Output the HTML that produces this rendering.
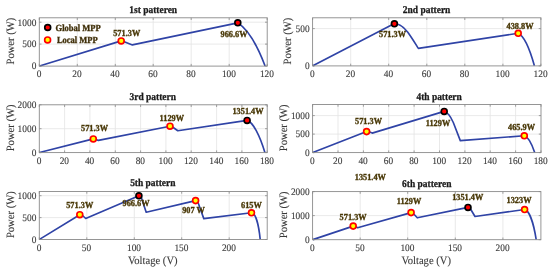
<!DOCTYPE html>
<html><head><meta charset="utf-8"><title>P-V curves</title>
<style>
html,body{margin:0;padding:0;background:#fff;}
svg{display:block;filter:blur(0.3px);}
text{font-family:"Liberation Serif","Times New Roman",serif;text-rendering:geometricPrecision;}
.tk{font-size:9.35px;fill:#3c3c3c;stroke:#3c3c3c;stroke-width:0.12px;}
.lb{font-size:10.6px;fill:#3a3a3a;stroke:#3a3a3a;stroke-width:0.1px;}
.tt{font-size:9.45px;font-weight:bold;fill:#1a1a1a;stroke:#1a1a1a;stroke-width:0.25px;}
.an{font-size:8.3px;font-weight:bold;fill:#483706;stroke:#483706;stroke-width:0.3px;}
.lg{font-size:8.5px;font-weight:bold;fill:#40300a;stroke:#40300a;stroke-width:0.3px;}
</style></head>
<body>
<svg width="550" height="270" viewBox="0 0 550 270">
<rect width="550" height="270" fill="#fff"/>
<g>
<path d="M77.3,17.8V66.1M115.3,17.8V66.1M153.2,17.8V66.1M191.2,17.8V66.1M229.2,17.8V66.1M39.3,44.1H267.2M39.3,22.2H267.2" stroke="#e3e3e3" stroke-width="0.8" fill="none"/>
<path d="M39.5,66 L121.2,40.9 Q122.6,40.6 123.6,41.4 L132.4,44.9 L237.8,22.9 C246,28 256,42 265.1,66" stroke="#2f43a6" stroke-width="1.65" fill="none" stroke-linejoin="round"/>
<rect x="39.3" y="17.8" width="227.9" height="48.3" fill="none" stroke="#8a8a8a" stroke-width="0.9"/>
<path d="M39.3,66.1v-2.2M39.3,17.8v2.2M77.3,66.1v-2.2M77.3,17.8v2.2M115.3,66.1v-2.2M115.3,17.8v2.2M153.2,66.1v-2.2M153.2,17.8v2.2M191.2,66.1v-2.2M191.2,17.8v2.2M229.2,66.1v-2.2M229.2,17.8v2.2M267.2,66.1v-2.2M267.2,17.8v2.2M39.3,66.1h2.2M267.2,66.1h-2.2M39.3,44.1h2.2M267.2,44.1h-2.2M39.3,22.2h2.2M267.2,22.2h-2.2" stroke="#8a8a8a" stroke-width="0.8" fill="none"/>
<text class="tk" transform="translate(39.0,77.3) scale(1,1.06)" text-anchor="middle">0</text>
<text class="tk" transform="translate(77.0,77.3) scale(1,1.06)" text-anchor="middle">20</text>
<text class="tk" transform="translate(115.0,77.3) scale(1,1.06)" text-anchor="middle">40</text>
<text class="tk" transform="translate(152.9,77.3) scale(1,1.06)" text-anchor="middle">60</text>
<text class="tk" transform="translate(190.9,77.3) scale(1,1.06)" text-anchor="middle">80</text>
<text class="tk" transform="translate(228.9,77.3) scale(1,1.06)" text-anchor="middle">100</text>
<text class="tk" transform="translate(266.9,77.3) scale(1,1.06)" text-anchor="middle">120</text>
<text class="tk" transform="translate(36.3,69.4) scale(1,1.06)" text-anchor="end">0</text>
<text class="tk" transform="translate(36.3,47.4) scale(1,1.06)" text-anchor="end">500</text>
<text class="tk" transform="translate(36.3,25.5) scale(1,1.06)" text-anchor="end">1000</text>
<text class="lb" transform="translate(13.5,41.1) rotate(-90) scale(1,1.06)" text-anchor="middle">Power (W)</text>
<text class="tt" transform="translate(153.2,13.1) scale(1,1.1)" text-anchor="middle">1st patteren</text>
<circle cx="121.2" cy="40.9" r="2.95" fill="#ff0" stroke="#f00" stroke-width="1.65"/>
<circle cx="237.8" cy="22.8" r="2.95" fill="#f00" stroke="#000" stroke-width="1.65"/>
</g>
<g>
<path d="M350.7,17.8V65.9M388.7,17.8V65.9M426.8,17.8V65.9M464.8,17.8V65.9M502.9,17.8V65.9M312.6,28.6H540.9" stroke="#e3e3e3" stroke-width="0.8" fill="none"/>
<path d="M312.8,65.8 L392.5,24.6 C397,22.5 403,26 407.8,32.2 C412,38 415,43 418.4,48.4 L518.2,33.3 C524,36 530,50 534.4,65.8" stroke="#2f43a6" stroke-width="1.65" fill="none" stroke-linejoin="round"/>
<rect x="312.6" y="17.8" width="228.3" height="48.1" fill="none" stroke="#8a8a8a" stroke-width="0.9"/>
<path d="M312.6,65.9v-2.2M312.6,17.8v2.2M350.7,65.9v-2.2M350.7,17.8v2.2M388.7,65.9v-2.2M388.7,17.8v2.2M426.8,65.9v-2.2M426.8,17.8v2.2M464.8,65.9v-2.2M464.8,17.8v2.2M502.9,65.9v-2.2M502.9,17.8v2.2M540.9,65.9v-2.2M540.9,17.8v2.2M312.6,65.9h2.2M540.9,65.9h-2.2M312.6,28.6h2.2M540.9,28.6h-2.2" stroke="#8a8a8a" stroke-width="0.8" fill="none"/>
<text class="tk" transform="translate(312.3,77.1) scale(1,1.06)" text-anchor="middle">0</text>
<text class="tk" transform="translate(350.4,77.1) scale(1,1.06)" text-anchor="middle">20</text>
<text class="tk" transform="translate(388.4,77.1) scale(1,1.06)" text-anchor="middle">40</text>
<text class="tk" transform="translate(426.4,77.1) scale(1,1.06)" text-anchor="middle">60</text>
<text class="tk" transform="translate(464.5,77.1) scale(1,1.06)" text-anchor="middle">80</text>
<text class="tk" transform="translate(502.6,77.1) scale(1,1.06)" text-anchor="middle">100</text>
<text class="tk" transform="translate(540.6,77.1) scale(1,1.06)" text-anchor="middle">120</text>
<text class="tk" transform="translate(309.6,69.2) scale(1,1.06)" text-anchor="end">0</text>
<text class="tk" transform="translate(309.6,31.9) scale(1,1.06)" text-anchor="end">500</text>
<text class="lb" transform="translate(291.2,41.1) rotate(-90) scale(1,1.06)" text-anchor="middle">Power (W)</text>
<text class="tt" transform="translate(426.6,13.4) scale(1,1.1)" text-anchor="middle">2nd pattern</text>
<circle cx="394.4" cy="23.8" r="2.95" fill="#f00" stroke="#000" stroke-width="1.65"/>
<circle cx="518.2" cy="33.3" r="2.95" fill="#ff0" stroke="#f00" stroke-width="1.65"/>
</g>
<g>
<path d="M64.6,104.8V152.6M89.9,104.8V152.6M115.3,104.8V152.6M140.6,104.8V152.6M165.9,104.8V152.6M191.2,104.8V152.6M216.6,104.8V152.6M241.9,104.8V152.6M39.3,128.7H267.2" stroke="#e3e3e3" stroke-width="0.8" fill="none"/>
<path d="M39.5,152.5 L93.3,138.9 Q94.5,138.7 95.3,139.2 L98.4,140.4 L170,126.2 Q171.5,126.1 172.5,127 L177.8,130.7 L247.1,120.4 C253,122 260,136 264.9,152.6" stroke="#2f43a6" stroke-width="1.65" fill="none" stroke-linejoin="round"/>
<rect x="39.3" y="104.8" width="227.9" height="47.8" fill="none" stroke="#8a8a8a" stroke-width="0.9"/>
<path d="M39.3,152.6v-2.2M39.3,104.8v2.2M64.6,152.6v-2.2M64.6,104.8v2.2M89.9,152.6v-2.2M89.9,104.8v2.2M115.3,152.6v-2.2M115.3,104.8v2.2M140.6,152.6v-2.2M140.6,104.8v2.2M165.9,152.6v-2.2M165.9,104.8v2.2M191.2,152.6v-2.2M191.2,104.8v2.2M216.6,152.6v-2.2M216.6,104.8v2.2M241.9,152.6v-2.2M241.9,104.8v2.2M267.2,152.6v-2.2M267.2,104.8v2.2M39.3,152.6h2.2M267.2,152.6h-2.2M39.3,128.7h2.2M267.2,128.7h-2.2M39.3,104.8h2.2M267.2,104.8h-2.2" stroke="#8a8a8a" stroke-width="0.8" fill="none"/>
<text class="tk" transform="translate(39.0,163.8) scale(1,1.06)" text-anchor="middle">0</text>
<text class="tk" transform="translate(64.3,163.8) scale(1,1.06)" text-anchor="middle">20</text>
<text class="tk" transform="translate(89.6,163.8) scale(1,1.06)" text-anchor="middle">40</text>
<text class="tk" transform="translate(115.0,163.8) scale(1,1.06)" text-anchor="middle">60</text>
<text class="tk" transform="translate(140.3,163.8) scale(1,1.06)" text-anchor="middle">80</text>
<text class="tk" transform="translate(165.6,163.8) scale(1,1.06)" text-anchor="middle">100</text>
<text class="tk" transform="translate(190.9,163.8) scale(1,1.06)" text-anchor="middle">120</text>
<text class="tk" transform="translate(216.3,163.8) scale(1,1.06)" text-anchor="middle">140</text>
<text class="tk" transform="translate(241.6,163.8) scale(1,1.06)" text-anchor="middle">160</text>
<text class="tk" transform="translate(266.9,163.8) scale(1,1.06)" text-anchor="middle">180</text>
<text class="tk" transform="translate(36.3,155.9) scale(1,1.06)" text-anchor="end">0</text>
<text class="tk" transform="translate(36.3,132.0) scale(1,1.06)" text-anchor="end">1000</text>
<text class="tk" transform="translate(36.3,108.1) scale(1,1.06)" text-anchor="end">2000</text>
<text class="lb" transform="translate(13.5,127.9) rotate(-90) scale(1,1.06)" text-anchor="middle">Power (W)</text>
<text class="tt" transform="translate(152.8,99.9) scale(1,1.1)" text-anchor="middle">3rd pattern</text>
<circle cx="93.3" cy="138.9" r="2.95" fill="#ff0" stroke="#f00" stroke-width="1.65"/>
<circle cx="170.0" cy="126.2" r="2.95" fill="#ff0" stroke="#f00" stroke-width="1.65"/>
<circle cx="247.1" cy="120.4" r="2.95" fill="#f00" stroke="#000" stroke-width="1.65"/>
</g>
<g>
<path d="M338.0,104.5V152.6M363.4,104.5V152.6M388.7,104.5V152.6M414.1,104.5V152.6M439.5,104.5V152.6M464.9,104.5V152.6M490.2,104.5V152.6M515.6,104.5V152.6M312.6,134.1H541.0M312.6,115.6H541.0" stroke="#e3e3e3" stroke-width="0.8" fill="none"/>
<path d="M312.8,152.5 L366.6,131.6 Q368,131.2 369,131.8 L372.2,133.1 L442.5,111.9 C447,110.8 450,115 453.3,122.5 L460.3,140.6 L524.2,135.8 C529,137 532.5,146 534.7,152.6" stroke="#2f43a6" stroke-width="1.65" fill="none" stroke-linejoin="round"/>
<rect x="312.6" y="104.5" width="228.4" height="48.1" fill="none" stroke="#8a8a8a" stroke-width="0.9"/>
<path d="M312.6,152.6v-2.2M312.6,104.5v2.2M338.0,152.6v-2.2M338.0,104.5v2.2M363.4,152.6v-2.2M363.4,104.5v2.2M388.7,152.6v-2.2M388.7,104.5v2.2M414.1,152.6v-2.2M414.1,104.5v2.2M439.5,152.6v-2.2M439.5,104.5v2.2M464.9,152.6v-2.2M464.9,104.5v2.2M490.2,152.6v-2.2M490.2,104.5v2.2M515.6,152.6v-2.2M515.6,104.5v2.2M541.0,152.6v-2.2M541.0,104.5v2.2M312.6,152.6h2.2M541.0,152.6h-2.2M312.6,134.1h2.2M541.0,134.1h-2.2M312.6,115.6h2.2M541.0,115.6h-2.2" stroke="#8a8a8a" stroke-width="0.8" fill="none"/>
<text class="tk" transform="translate(312.3,163.8) scale(1,1.06)" text-anchor="middle">0</text>
<text class="tk" transform="translate(337.7,163.8) scale(1,1.06)" text-anchor="middle">20</text>
<text class="tk" transform="translate(363.1,163.8) scale(1,1.06)" text-anchor="middle">40</text>
<text class="tk" transform="translate(388.4,163.8) scale(1,1.06)" text-anchor="middle">60</text>
<text class="tk" transform="translate(413.8,163.8) scale(1,1.06)" text-anchor="middle">80</text>
<text class="tk" transform="translate(439.2,163.8) scale(1,1.06)" text-anchor="middle">100</text>
<text class="tk" transform="translate(464.6,163.8) scale(1,1.06)" text-anchor="middle">120</text>
<text class="tk" transform="translate(489.9,163.8) scale(1,1.06)" text-anchor="middle">140</text>
<text class="tk" transform="translate(515.3,163.8) scale(1,1.06)" text-anchor="middle">160</text>
<text class="tk" transform="translate(540.7,163.8) scale(1,1.06)" text-anchor="middle">180</text>
<text class="tk" transform="translate(309.6,155.9) scale(1,1.06)" text-anchor="end">0</text>
<text class="tk" transform="translate(309.6,137.4) scale(1,1.06)" text-anchor="end">500</text>
<text class="tk" transform="translate(309.6,118.9) scale(1,1.06)" text-anchor="end">1000</text>
<text class="lb" transform="translate(286.5,127.8) rotate(-90) scale(1,1.06)" text-anchor="middle">Power (W)</text>
<text class="tt" transform="translate(439.1,99.9) scale(1,1.1)" text-anchor="middle">4th pattern</text>
<circle cx="366.6" cy="131.6" r="2.95" fill="#ff0" stroke="#f00" stroke-width="1.65"/>
<circle cx="444.2" cy="111.4" r="2.95" fill="#f00" stroke="#000" stroke-width="1.65"/>
<circle cx="524.3" cy="135.8" r="2.95" fill="#ff0" stroke="#f00" stroke-width="1.65"/>
</g>
<g>
<path d="M86.8,191.5V239.5M134.3,191.5V239.5M181.7,191.5V239.5M229.2,191.5V239.5M39.3,217.6H267.2M39.3,195.7H267.2" stroke="#e3e3e3" stroke-width="0.8" fill="none"/>
<path d="M39.5,239.4 L79.8,214.7 Q81,214.2 82,215 L85.7,218.5 L138.9,195.8 Q140.5,195.5 141.5,198 L146.2,212.2 L195.6,200.6 Q197.2,200.5 198.2,203 L203.8,218.6 L251.5,212.8 C255,213 258.5,222 260.2,239.4" stroke="#2f43a6" stroke-width="1.65" fill="none" stroke-linejoin="round"/>
<rect x="39.3" y="191.5" width="227.9" height="48.0" fill="none" stroke="#8a8a8a" stroke-width="0.9"/>
<path d="M39.3,239.5v-2.2M39.3,191.5v2.2M86.8,239.5v-2.2M86.8,191.5v2.2M134.3,239.5v-2.2M134.3,191.5v2.2M181.7,239.5v-2.2M181.7,191.5v2.2M229.2,239.5v-2.2M229.2,191.5v2.2M39.3,239.5h2.2M267.2,239.5h-2.2M39.3,217.6h2.2M267.2,217.6h-2.2M39.3,195.7h2.2M267.2,195.7h-2.2" stroke="#8a8a8a" stroke-width="0.8" fill="none"/>
<text class="tk" transform="translate(39.0,250.7) scale(1,1.06)" text-anchor="middle">0</text>
<text class="tk" transform="translate(86.5,250.7) scale(1,1.06)" text-anchor="middle">50</text>
<text class="tk" transform="translate(134.0,250.7) scale(1,1.06)" text-anchor="middle">100</text>
<text class="tk" transform="translate(181.4,250.7) scale(1,1.06)" text-anchor="middle">150</text>
<text class="tk" transform="translate(228.9,250.7) scale(1,1.06)" text-anchor="middle">200</text>
<text class="tk" transform="translate(36.3,242.8) scale(1,1.06)" text-anchor="end">0</text>
<text class="tk" transform="translate(36.3,220.9) scale(1,1.06)" text-anchor="end">500</text>
<text class="tk" transform="translate(36.3,199.0) scale(1,1.06)" text-anchor="end">1000</text>
<text class="lb" transform="translate(13.5,214.7) rotate(-90) scale(1,1.06)" text-anchor="middle">Power (W)</text>
<text class="lb" transform="translate(152.8,264.0) scale(1,1.06)" text-anchor="middle">Voltage (V)</text>
<text class="tt" transform="translate(152.8,186.3) scale(1,1.1)" text-anchor="middle">5th pattern</text>
<circle cx="79.8" cy="214.7" r="2.95" fill="#ff0" stroke="#f00" stroke-width="1.65"/>
<circle cx="138.9" cy="195.8" r="2.95" fill="#f00" stroke="#000" stroke-width="1.65"/>
<circle cx="195.6" cy="200.6" r="2.95" fill="#ff0" stroke="#f00" stroke-width="1.65"/>
<circle cx="251.5" cy="212.8" r="2.95" fill="#ff0" stroke="#f00" stroke-width="1.65"/>
</g>
<g>
<path d="M360.2,191.6V239.7M407.7,191.6V239.7M455.3,191.6V239.7M502.9,191.6V239.7M312.6,215.6H540.9" stroke="#e3e3e3" stroke-width="0.8" fill="none"/>
<path d="M312.8,239.6 L353.2,226.1 Q354.5,225.9 355.3,226.5 L357.6,227.7 L411.1,212.6 Q412.5,212.5 413.5,213.8 L417.3,217.8 L468,207.4 Q469.5,207.3 470.5,209 L475,216.5 L524.6,209.5 C529,210.5 533.5,222 536.2,239.7" stroke="#2f43a6" stroke-width="1.65" fill="none" stroke-linejoin="round"/>
<rect x="312.6" y="191.6" width="228.3" height="48.1" fill="none" stroke="#8a8a8a" stroke-width="0.9"/>
<path d="M312.6,239.7v-2.2M312.6,191.6v2.2M360.2,239.7v-2.2M360.2,191.6v2.2M407.7,239.7v-2.2M407.7,191.6v2.2M455.3,239.7v-2.2M455.3,191.6v2.2M502.9,239.7v-2.2M502.9,191.6v2.2M312.6,239.7h2.2M540.9,239.7h-2.2M312.6,215.6h2.2M540.9,215.6h-2.2M312.6,191.6h2.2M540.9,191.6h-2.2" stroke="#8a8a8a" stroke-width="0.8" fill="none"/>
<text class="tk" transform="translate(312.3,250.9) scale(1,1.06)" text-anchor="middle">0</text>
<text class="tk" transform="translate(359.9,250.9) scale(1,1.06)" text-anchor="middle">50</text>
<text class="tk" transform="translate(407.4,250.9) scale(1,1.06)" text-anchor="middle">100</text>
<text class="tk" transform="translate(455.0,250.9) scale(1,1.06)" text-anchor="middle">150</text>
<text class="tk" transform="translate(502.6,250.9) scale(1,1.06)" text-anchor="middle">200</text>
<text class="tk" transform="translate(309.6,243.0) scale(1,1.06)" text-anchor="end">0</text>
<text class="tk" transform="translate(309.6,218.9) scale(1,1.06)" text-anchor="end">1000</text>
<text class="tk" transform="translate(309.6,194.9) scale(1,1.06)" text-anchor="end">2000</text>
<text class="lb" transform="translate(286.5,214.8) rotate(-90) scale(1,1.06)" text-anchor="middle">Power (W)</text>
<text class="lb" transform="translate(426.2,264.0) scale(1,1.06)" text-anchor="middle">Voltage (V)</text>
<text class="tt" transform="translate(426.8,186.7) scale(1,1.1)" text-anchor="middle">6th patteren</text>
<circle cx="353.2" cy="226.1" r="2.95" fill="#ff0" stroke="#f00" stroke-width="1.65"/>
<circle cx="411.1" cy="212.6" r="2.95" fill="#ff0" stroke="#f00" stroke-width="1.65"/>
<circle cx="468.0" cy="207.4" r="2.95" fill="#f00" stroke="#000" stroke-width="1.65"/>
<circle cx="524.6" cy="209.5" r="2.95" fill="#ff0" stroke="#f00" stroke-width="1.65"/>
</g>
<circle cx="47.7" cy="27.5" r="2.95" fill="#f00" stroke="#000" stroke-width="1.65"/>
<circle cx="47.6" cy="39.9" r="2.95" fill="#ff0" stroke="#f00" stroke-width="1.65"/>
<text class="lg" transform="translate(55.6,30.7) scale(1,1.1)">Global MPP</text>
<text class="lg" transform="translate(56.9,42.9) scale(1,1.1)">Local MPP</text>
<text class="an" transform="translate(126.7,36.3) scale(1,1.1)" text-anchor="middle">571.3W</text>
<text class="an" transform="translate(234.0,37.4) scale(1,1.1)" text-anchor="middle">966.6W</text>
<text class="an" transform="translate(392.5,37.4) scale(1,1.1)" text-anchor="middle">571.3W</text>
<text class="an" transform="translate(520.0,29.0) scale(1,1.1)" text-anchor="middle">438.8W</text>
<text class="an" transform="translate(94.5,131.4) scale(1,1.1)" text-anchor="middle">571.3W</text>
<text class="an" transform="translate(171.8,121.1) scale(1,1.1)" text-anchor="middle">1129W</text>
<text class="an" transform="translate(248.0,114.1) scale(1,1.1)" text-anchor="middle">1351.4W</text>
<text class="an" transform="translate(368.5,124.0) scale(1,1.1)" text-anchor="middle">571.3W</text>
<text class="an" transform="translate(438.0,125.5) scale(1,1.1)" text-anchor="middle">1129W</text>
<text class="an" transform="translate(521.5,129.7) scale(1,1.1)" text-anchor="middle">465.9W</text>
<text class="an" transform="translate(370.3,179.5) scale(1,1.1)" text-anchor="middle">1351.4W</text>
<text class="an" transform="translate(79.7,207.8) scale(1,1.1)" text-anchor="middle">571.3W</text>
<text class="an" transform="translate(136.0,205.9) scale(1,1.1)" text-anchor="middle">966.6W</text>
<text class="an" transform="translate(193.5,212.9) scale(1,1.1)" text-anchor="middle">907 W</text>
<text class="an" transform="translate(251.4,207.7) scale(1,1.1)" text-anchor="middle">615W</text>
<text class="an" transform="translate(353.1,219.5) scale(1,1.1)" text-anchor="middle">571.3W</text>
<text class="an" transform="translate(409.0,203.9) scale(1,1.1)" text-anchor="middle">1129W</text>
<text class="an" transform="translate(467.7,200.0) scale(1,1.1)" text-anchor="middle">1351.4W</text>
<text class="an" transform="translate(519.0,203.2) scale(1,1.1)" text-anchor="middle">1323W</text>
</svg>
</body></html>
